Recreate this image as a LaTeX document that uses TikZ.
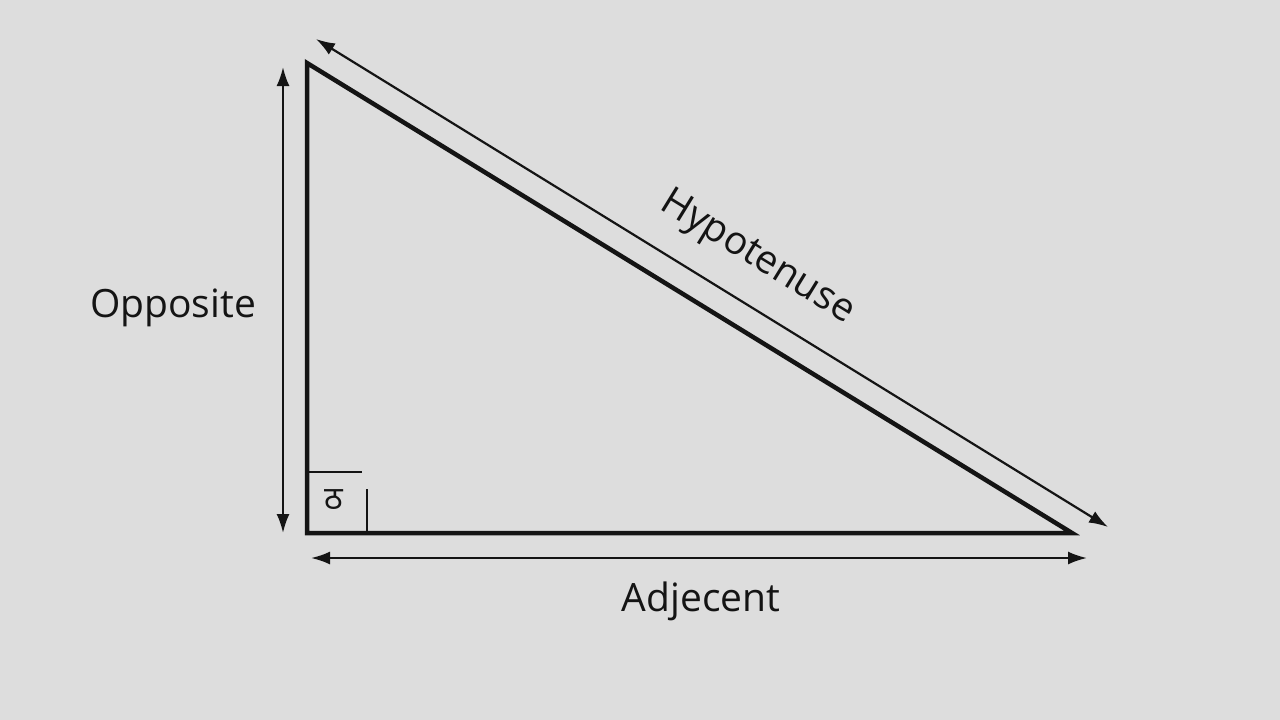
\documentclass[tikz,border=0pt]{standalone}
\usepackage{fontspec}
\setmainfont{Open Sans}
\newfontfamily\devafont[Script=Devanagari]{Noto Sans}
\usetikzlibrary{arrows.meta}
\definecolor{paper}{RGB}{221,221,221}
\definecolor{ink}{RGB}{20,20,20}
\begin{document}
\begin{tikzpicture}[x=1pt, y=-1pt,
  side/.style = {draw=ink, line width=4.5pt, line join=miter},
  measure/.style = {draw=ink, line width=2.2pt,
    {Latex[length=19pt,width=13pt]}-{Latex[length=19pt,width=13pt]}},
  label/.style = {text=ink, font=\fontsize{39}{46}\selectfont, inner sep=0pt}]
  \fill[paper] (0,0) rectangle (1280,720);
  \useasboundingbox (0,0) rectangle (1280,720);
  % triangle corners
  \coordinate (A) at (307,63);
  \coordinate (B) at (307,533);
  \coordinate (C) at (1072,533);
  \draw[side] (A) -- (B) -- (C) -- cycle;
  % right angle mark
  \coordinate (m1) at (309,472);
  \coordinate (m2) at (362,472);
  \coordinate (m3) at (367,489);
  \coordinate (m4) at (367,531);
  \draw[ink, line width=1.6pt] (m1) -- (m2);
  \draw[ink, line width=1.6pt] (m3) -- (m4);
  \node[text=ink, font=\devafont\bfseries\fontsize{32}{36}\selectfont, inner sep=0pt] (angle) at (334,500) {ठ};
  % measuring arrows
  \coordinate (opTop) at (283,67);
  \coordinate (opBot) at (283,533);
  \coordinate (adL) at (311,558);
  \coordinate (adR) at (1087,558);
  \coordinate (hyT) at (316,39);
  \coordinate (hyB) at (1108,527);
  \draw[measure] (opTop) -- (opBot);
  \draw[measure] (adL) -- (adR);
  \draw[measure] (hyT) -- (hyB);
  % labels
  \node[label] (opposite) at (173,308) {Opposite};
  \node[label] (adjacent) at (701,601) {Adjecent};
  \node[label, rotate=-31.6] (hypotenuse) at (757,258) {Hypotenuse};
\end{tikzpicture}
\end{document}
